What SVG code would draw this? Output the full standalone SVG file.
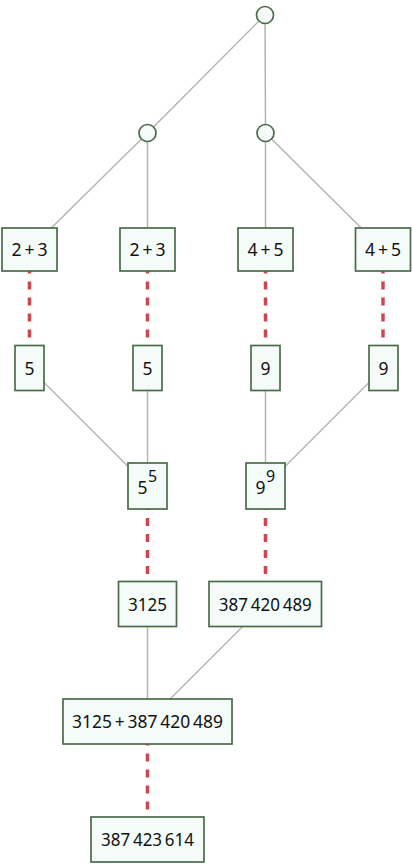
<svg xmlns="http://www.w3.org/2000/svg" width="412" height="864" viewBox="0 0 412 864">
<style>
.e{stroke:#b5b5af;stroke-width:1.5;fill:none}
.d{stroke:#cc4850;stroke-width:3.5;stroke-dasharray:8 8;fill:none}
.n{fill:#f5fbf8;stroke:#4b6b4b;stroke-width:1.7}
text{font-family:"Noto Sans","Open Sans",sans-serif;font-size:17.5px;fill:#111;text-anchor:middle}
.sup{font-size:16px}
</style>
<rect width="412" height="864" fill="#fff"/>
<g id="edges">
<line class="e" x1="265" y1="15" x2="147.5" y2="133"/>
<line class="e" x1="265" y1="15" x2="265.5" y2="133"/>
<line class="e" x1="147.5" y1="133" x2="29.5" y2="249.5"/>
<line class="e" x1="147.5" y1="133" x2="147.5" y2="249.5"/>
<line class="e" x1="265.5" y1="133" x2="265.5" y2="249.5"/>
<line class="e" x1="265.5" y1="133" x2="383" y2="249.5"/>
<line class="e" x1="29.5" y1="368" x2="147.5" y2="486"/>
<line class="e" x1="147.5" y1="368" x2="147.5" y2="486"/>
<line class="e" x1="265.5" y1="368" x2="265.5" y2="486"/>
<line class="e" x1="383.5" y1="368" x2="265.5" y2="486"/>
<line class="e" x1="147.5" y1="604" x2="147.5" y2="721.5"/>
<line class="e" x1="265.3" y1="604" x2="147.5" y2="721.5"/>
<line class="d" x1="29.5" y1="249.5" x2="29.5" y2="368"/>
<line class="d" x1="147.5" y1="249.5" x2="147.5" y2="368"/>
<line class="d" x1="265.5" y1="249.5" x2="265.5" y2="368"/>
<line class="d" x1="383" y1="249.5" x2="383" y2="368"/>
<line class="d" x1="147.5" y1="486" x2="147.5" y2="604"/>
<line class="d" x1="265.5" y1="486" x2="265.5" y2="604"/>
<line class="d" x1="147.5" y1="721.5" x2="147.5" y2="839.5"/>
</g>
<g id="root"><circle class="n" cx="265" cy="15" r="8.5"/></g>
<g id="mid-left"><circle class="n" cx="147.5" cy="133" r="8.5"/></g>
<g id="mid-right"><circle class="n" cx="265.5" cy="133" r="8.5"/></g>
<g id="sum23a"><rect class="n" x="2" y="228" width="55" height="43"/><text x="29.5" y="256" textLength="36" lengthAdjust="spacingAndGlyphs">2&#8201;+&#8201;3</text></g>
<g id="sum23b"><rect class="n" x="120" y="228" width="55" height="43"/><text x="147.5" y="256" textLength="36" lengthAdjust="spacingAndGlyphs">2&#8201;+&#8201;3</text></g>
<g id="sum45a"><rect class="n" x="238" y="228" width="55" height="43"/><text x="265.5" y="256" textLength="36" lengthAdjust="spacingAndGlyphs">4&#8201;+&#8201;5</text></g>
<g id="sum45b"><rect class="n" x="355.5" y="228" width="55" height="43"/><text x="383" y="256" textLength="36" lengthAdjust="spacingAndGlyphs">4&#8201;+&#8201;5</text></g>
<g id="five-a"><rect class="n" x="15" y="345.5" width="29" height="45"/><text x="29.5" y="374.5">5</text></g>
<g id="five-b"><rect class="n" x="133" y="345.5" width="29" height="45"/><text x="147.5" y="374.5">5</text></g>
<g id="nine-a"><rect class="n" x="251" y="345.5" width="29" height="45"/><text x="265.5" y="374.5">9</text></g>
<g id="nine-b"><rect class="n" x="369" y="345.5" width="29" height="45"/><text x="383.5" y="374.5">9</text></g>
<g id="pow55"><rect class="n" x="128" y="463" width="39" height="46"/><text x="142.5" y="494">5</text><text class="sup" x="152.5" y="482">5</text></g>
<g id="pow99"><rect class="n" x="246" y="463" width="39" height="46"/><text x="260.5" y="494">9</text><text class="sup" x="270.5" y="482">9</text></g>
<g id="v3125"><rect class="n" x="118.5" y="581.5" width="58" height="45"/><text x="147.5" y="610.5" textLength="39" lengthAdjust="spacingAndGlyphs">3125</text></g>
<g id="v387420489"><rect class="n" x="209" y="581.5" width="112.5" height="45"/><text x="265.3" y="610.5" textLength="93" lengthAdjust="spacingAndGlyphs">387&#8201;420&#8201;489</text></g>
<g id="sum-big"><rect class="n" x="63" y="699" width="169" height="45"/><text x="147.5" y="728" textLength="151" lengthAdjust="spacingAndGlyphs">3125&#8201;+&#8201;387&#8201;420&#8201;489</text></g>
<g id="result"><rect class="n" x="91" y="817" width="113" height="45"/><text x="147.5" y="846" textLength="93" lengthAdjust="spacingAndGlyphs">387&#8201;423&#8201;614</text></g>
</svg>
